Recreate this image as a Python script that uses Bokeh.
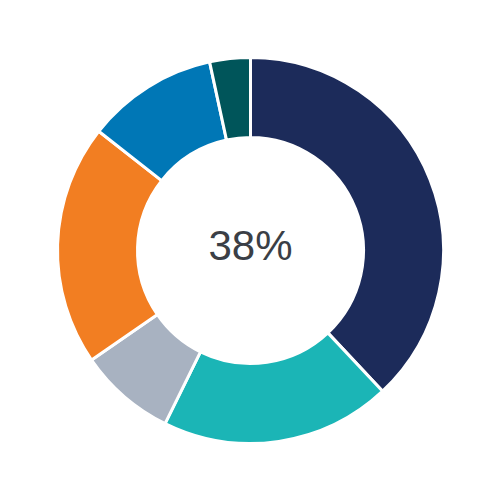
import math
from bokeh.plotting import figure
from bokeh.models import ColumnDataSource
from bokeh.core.properties import value
from bokeh.embed import file_html
from bokeh.resources import INLINE

categories = ["A", "B", "C", "D", "E", "F"]
shares = [38.0, 19.3, 8.1, 20.2, 11.0, 3.4]
colors = ["#1c2b5a", "#1bb5b6", "#a8b2c1", "#f27e22", "#0077b6", "#00555a"]
center_label = "38%"

total = sum(shares)
starts, ends = [], []
acc = 0.0
for s in shares:
    a0 = math.pi / 2 - 2 * math.pi * acc / total
    acc += s
    a1 = math.pi / 2 - 2 * math.pi * acc / total
    starts.append(a0)
    ends.append(a1)

src = ColumnDataSource(dict(cat=categories, share=shares, color=colors,
                            start=starts, end=ends))

W = 484
p = figure(width=W, height=W, x_range=(-250, W - 250), y_range=(250 - W, 250),
           output_backend="svg", toolbar_location=None, min_border=0)
p.axis.visible = False
p.grid.visible = False
p.outline_line_color = None
p.background_fill_color = "white"
p.border_fill_color = "white"

p.annular_wedge(x=0, y=0, inner_radius=113, outer_radius=193,
                start_angle="start", end_angle="end", direction="clock",
                fill_color="color", line_color="white", line_width=3, source=src)

p.text(x=[0], y=[5], text=[center_label], text_align="center", text_baseline="middle",
       text_font=value("Liberation Sans"), text_font_size="42px", text_color="#3b3f46")

open("out.html", "w").write(file_html(p, INLINE))
